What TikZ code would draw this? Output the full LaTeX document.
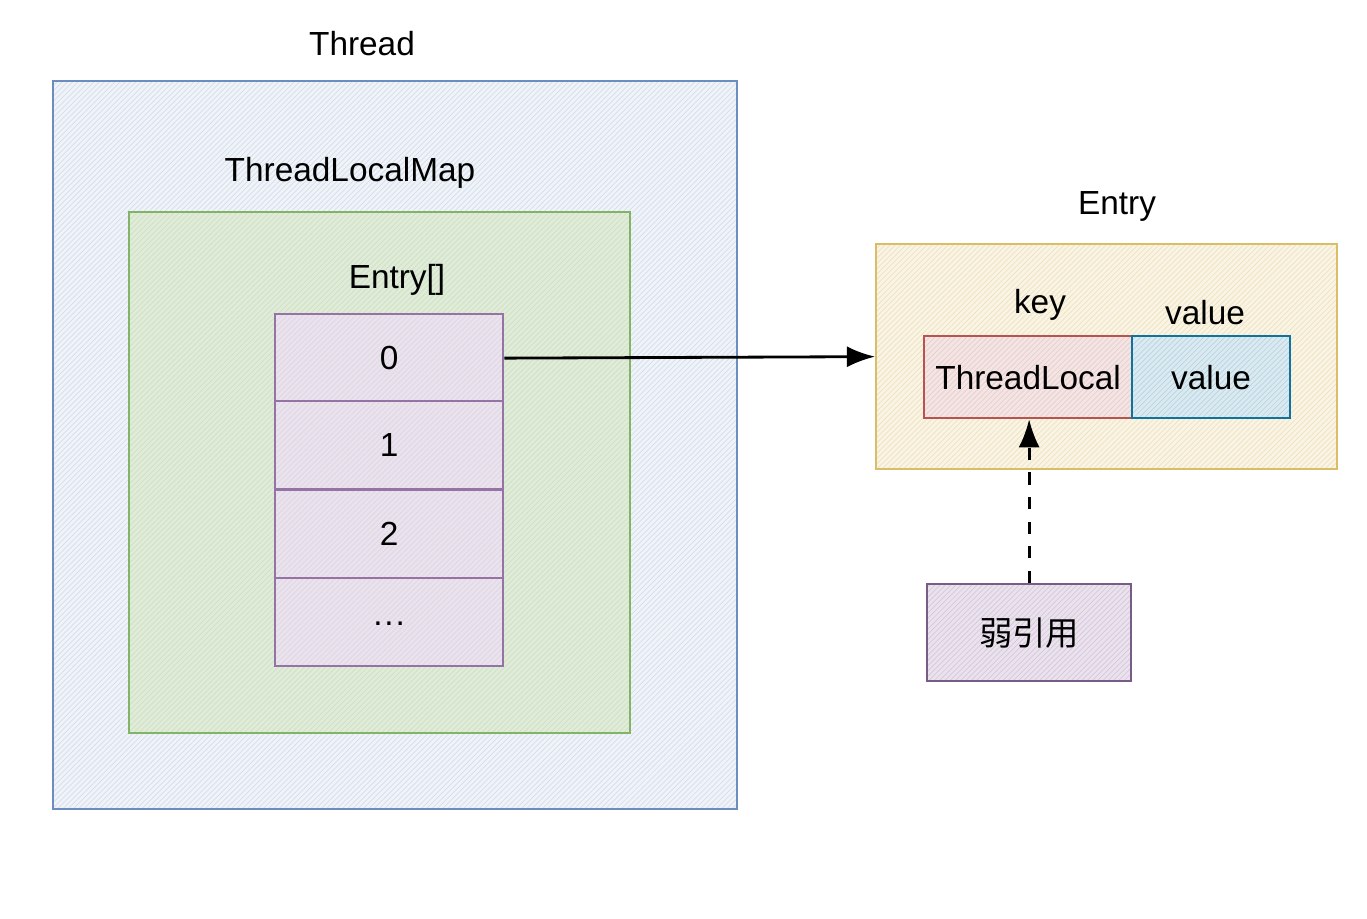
\documentclass[tikz,border=0pt]{standalone}
\usepackage{fontspec}
\setmainfont{Liberation Sans}
\newfontfamily\cjk{Noto Sans CJK SC}
\usetikzlibrary{patterns,arrows.meta}
\tikzset{
	>={Latex[length=16pt,width=12pt]},
}
\definecolor{tblue}{HTML}{6C8EBF}
\definecolor{tgreen}{HTML}{82B366}
\definecolor{tpurple}{HTML}{9673A6}
\definecolor{torange}{HTML}{D6B656}
\definecolor{tred}{HTML}{B85450}
\definecolor{tcyan}{HTML}{10739E}
\tikzstyle{box}=[line width=1.3pt,inner sep=0pt,anchor=north west]
\tikzstyle{lbl}=[font=\fontsize{19}{22}\selectfont]
\newcommand{\celldots}{\raisebox{-4pt}{.\kern1pt.\kern1pt.}}

\begin{document}
\begin{tikzpicture}[x=0.02cm,y=-0.02cm]
      \useasboundingbox (0,0) rectangle (1367,919);
      \node[box,draw=tblue,preaction={fill=tblue!10},preaction={pattern=north east lines,pattern color=tblue!30},
        minimum width=684*0.02cm,minimum height=728*0.02cm] (thread) at (52,80) {};
      \node[box,draw=tgreen,preaction={fill=tgreen!25},preaction={pattern=north east lines,pattern color=tgreen!40},
        minimum width=501*0.02cm,minimum height=521*0.02cm] (map) at (128,211) {};
      \node[lbl] at (362,44) {Thread};
      \node[lbl] at (350,173) {ThreadLocalMap};
      \node[lbl] at (397,280) {Entry[]};
      % array cells
      \foreach \y/\t [count=\i] in {313/0,400/1,489/2,577/\celldots} {
        \node[box,draw=tpurple,preaction={fill=tpurple!20},preaction={pattern=north east lines,pattern color=tpurple!30},
          minimum width=228*0.02cm,minimum height=88*0.02cm] (c\i) at (274,\y) {};
        \node[lbl] at (c\i.center) {\t};
      }
      % entry
      \node[box,draw=torange!90,preaction={fill=torange!15},preaction={pattern=north east lines,pattern color=torange!40},
        minimum width=461*0.02cm,minimum height=225*0.02cm] (entry) at (875,243) {};
      \node[lbl] at (1117,206) {Entry};
      \node[lbl] at (1040,305) {key};
      \node[lbl] at (1205,313) {value};
      \node[box,draw=tred,preaction={fill=tred!15},preaction={pattern=north east lines,pattern color=tred!30},
        minimum width=208*0.02cm,minimum height=82*0.02cm] (key) at (923,335) {};
      \node[lbl] at (key.center) {ThreadLocal};
      \node[box,draw=tcyan,preaction={fill=tcyan!15},preaction={pattern=north east lines,pattern color=tcyan!30},
        minimum width=158*0.02cm,minimum height=82*0.02cm] (val) at (1131,335) {};
      \node[lbl] at (val.center) {value};
      \node[box,draw=tpurple!80!black,preaction={fill=tpurple!20},preaction={pattern=north east lines,pattern color=tpurple!40},
        minimum width=204*0.02cm,minimum height=97*0.02cm] (weak) at (926,583) {};
      \node[lbl,font=\cjk\fontsize{19}{22}\selectfont] at (weak.center) {弱引用};
      \draw[->,line width=1.6pt] (c1.east) -- (entry.west);
      \draw[->,line width=1.6pt,dash pattern=on 7pt off 7pt] (weak.north) -- (weak.north |- key.south);
\end{tikzpicture}
\end{document}
